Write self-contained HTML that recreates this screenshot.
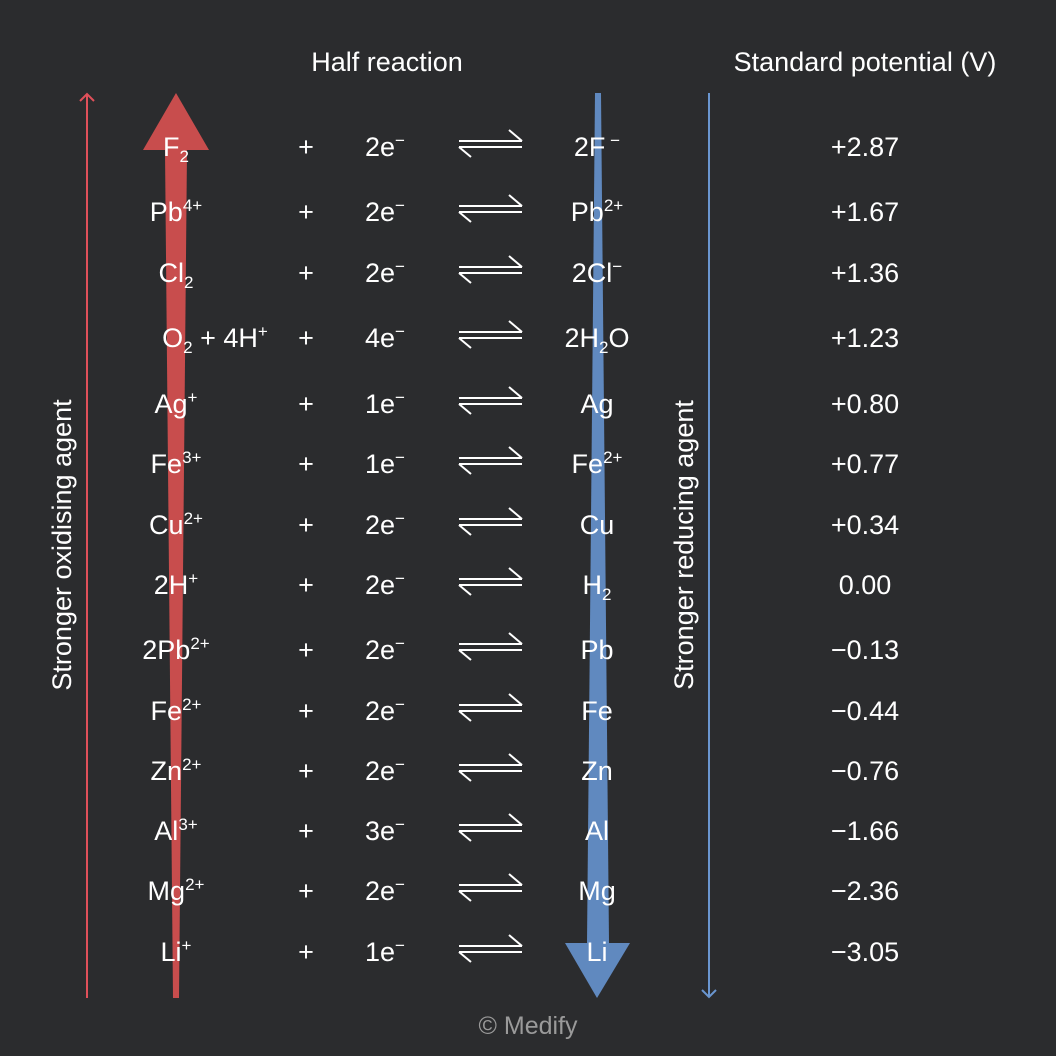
<!DOCTYPE html>
<html><head><meta charset="utf-8"><style>
html,body{margin:0;padding:0;background:#2b2c2e;}
svg{display:block;}
text{font-family:"Liberation Sans",sans-serif;fill:#fff;}
</style></head><body>
<svg width="1056" height="1056" viewBox="0 0 1056 1056" xmlns="http://www.w3.org/2000/svg">
<defs>
<g id="eq" fill="none" stroke="#fff" stroke-width="2">
<line x1="459" y1="-6" x2="522" y2="-6"/>
<line x1="522" y1="-6" x2="509" y2="-17"/>
<line x1="459" y1="0" x2="522" y2="0"/>
<line x1="459" y1="0" x2="471" y2="10"/>
</g>
</defs>
<rect width="1056" height="1056" fill="#2b2c2e"/>
<line x1="87" y1="94" x2="87" y2="998" stroke="#e0505a" stroke-width="2"/>
<polyline points="80,101 87,94 94,101" fill="none" stroke="#e0505a" stroke-width="2"/>
<line x1="709" y1="93" x2="709" y2="997" stroke="#6a96d0" stroke-width="2"/>
<polyline points="702,990 709,997 716,990" fill="none" stroke="#6a96d0" stroke-width="2"/>
<polygon points="165,150 187,150 179,998 173,998" fill="#c84d4d"/>
<polygon points="143,150 176,93 209,150" fill="#c84d4d"/>
<polygon points="595,93 601,93 609,943 587,943" fill="#6089bf"/>
<polygon points="565,943 630,943 597,998" fill="#6089bf"/>
<text x="387" y="71" font-size="27" text-anchor="middle">Half reaction</text>
<text x="865" y="71" font-size="27" text-anchor="middle">Standard potential (V)</text>
<text transform="translate(71,545) rotate(-90)" font-size="27" text-anchor="middle">Stronger oxidising agent</text>
<text transform="translate(693,545) rotate(-90)" font-size="27" text-anchor="middle">Stronger reducing agent</text>
<text x="528" y="1034" font-size="25" text-anchor="middle" style="fill:#9a9a9a">© Medify</text>
<g font-size="27" text-anchor="middle">
<text x="176" y="156">F<tspan font-size="17" dy="6">2</tspan></text>
<text x="597" y="156">2F<tspan font-size="17" dy="-10"> −</tspan></text>
<text x="865" y="156">+2.87</text>
<text x="176" y="221">Pb<tspan font-size="17" dy="-10">4+</tspan></text>
<text x="597" y="221">Pb<tspan font-size="17" dy="-10">2+</tspan></text>
<text x="865" y="221">+1.67</text>
<text x="176" y="282">Cl<tspan font-size="17" dy="6">2</tspan></text>
<text x="597" y="282">2Cl<tspan font-size="17" dy="-10">−</tspan></text>
<text x="865" y="282">+1.36</text>
<text x="215" y="347">O<tspan font-size="17" dy="6">2</tspan><tspan dy="-6"> + 4H</tspan><tspan font-size="17" dy="-10">+</tspan></text>
<text x="597" y="347">2H<tspan font-size="17" dy="6">2</tspan><tspan dy="-6">O</tspan></text>
<text x="865" y="347">+1.23</text>
<text x="176" y="413">Ag<tspan font-size="17" dy="-10">+</tspan></text>
<text x="597" y="413">Ag</text>
<text x="865" y="413">+0.80</text>
<text x="176" y="473">Fe<tspan font-size="17" dy="-10">3+</tspan></text>
<text x="597" y="473">Fe<tspan font-size="17" dy="-10">2+</tspan></text>
<text x="865" y="473">+0.77</text>
<text x="176" y="534">Cu<tspan font-size="17" dy="-10">2+</tspan></text>
<text x="597" y="534">Cu</text>
<text x="865" y="534">+0.34</text>
<text x="176" y="594">2H<tspan font-size="17" dy="-10">+</tspan></text>
<text x="597" y="594">H<tspan font-size="17" dy="6">2</tspan></text>
<text x="865" y="594">0.00</text>
<text x="176" y="659">2Pb<tspan font-size="17" dy="-10">2+</tspan></text>
<text x="597" y="659">Pb</text>
<text x="865" y="659">−0.13</text>
<text x="176" y="720">Fe<tspan font-size="17" dy="-10">2+</tspan></text>
<text x="597" y="720">Fe</text>
<text x="865" y="720">−0.44</text>
<text x="176" y="780">Zn<tspan font-size="17" dy="-10">2+</tspan></text>
<text x="597" y="780">Zn</text>
<text x="865" y="780">−0.76</text>
<text x="176" y="840">Al<tspan font-size="17" dy="-10">3+</tspan></text>
<text x="597" y="840">Al</text>
<text x="865" y="840">−1.66</text>
<text x="176" y="900">Mg<tspan font-size="17" dy="-10">2+</tspan></text>
<text x="597" y="900">Mg</text>
<text x="865" y="900">−2.36</text>
<text x="176" y="961">Li<tspan font-size="17" dy="-10">+</tspan></text>
<text x="597" y="961">Li</text>
<text x="865" y="961">−3.05</text>

<text x="306" y="156">+</text><text x="385" y="156">2e<tspan font-size="17" dy="-10">−</tspan></text>
<text x="306" y="221">+</text><text x="385" y="221">2e<tspan font-size="17" dy="-10">−</tspan></text>
<text x="306" y="282">+</text><text x="385" y="282">2e<tspan font-size="17" dy="-10">−</tspan></text>
<text x="306" y="347">+</text><text x="385" y="347">4e<tspan font-size="17" dy="-10">−</tspan></text>
<text x="306" y="413">+</text><text x="385" y="413">1e<tspan font-size="17" dy="-10">−</tspan></text>
<text x="306" y="473">+</text><text x="385" y="473">1e<tspan font-size="17" dy="-10">−</tspan></text>
<text x="306" y="534">+</text><text x="385" y="534">2e<tspan font-size="17" dy="-10">−</tspan></text>
<text x="306" y="594">+</text><text x="385" y="594">2e<tspan font-size="17" dy="-10">−</tspan></text>
<text x="306" y="659">+</text><text x="385" y="659">2e<tspan font-size="17" dy="-10">−</tspan></text>
<text x="306" y="720">+</text><text x="385" y="720">2e<tspan font-size="17" dy="-10">−</tspan></text>
<text x="306" y="780">+</text><text x="385" y="780">2e<tspan font-size="17" dy="-10">−</tspan></text>
<text x="306" y="840">+</text><text x="385" y="840">3e<tspan font-size="17" dy="-10">−</tspan></text>
<text x="306" y="900">+</text><text x="385" y="900">2e<tspan font-size="17" dy="-10">−</tspan></text>
<text x="306" y="961">+</text><text x="385" y="961">1e<tspan font-size="17" dy="-10">−</tspan></text>
</g>
<use href="#eq" y="147"/>
<use href="#eq" y="212"/>
<use href="#eq" y="273"/>
<use href="#eq" y="338"/>
<use href="#eq" y="404"/>
<use href="#eq" y="464"/>
<use href="#eq" y="525"/>
<use href="#eq" y="585"/>
<use href="#eq" y="650"/>
<use href="#eq" y="711"/>
<use href="#eq" y="771"/>
<use href="#eq" y="831"/>
<use href="#eq" y="891"/>
<use href="#eq" y="952"/>
</svg>
</body></html>
